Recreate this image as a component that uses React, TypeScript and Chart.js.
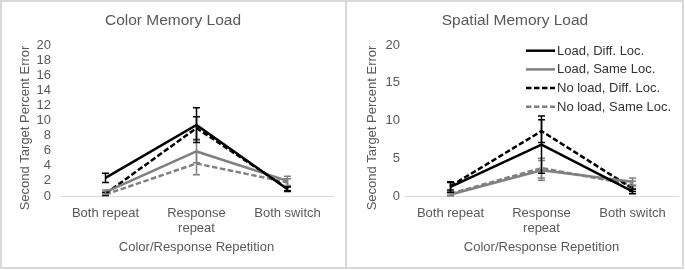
import React, { useEffect, useRef } from 'react';
import { Chart, registerables } from 'chart.js';
Chart.register(...registerables);

const FONT = '"Liberation Sans", Arial, sans-serif';
Chart.defaults.font.family = FONT;

const categories: string[][] = [['Both repeat'], ['Response', 'repeat'], ['Both switch']];
const seriesNames = ['Load, Diff. Loc.', 'Load, Same Loc.', 'No load, Diff. Loc.', 'No load, Same Loc.'];
const seriesColors = ['#000000', '#808080', '#000000', '#808080'];
const seriesDashed = [false, false, true, true];

// Color Memory Load
const colorLoadDiff = [2.4, 9.4, 0.9];
const colorLoadDiffErr = [0.6, 2.3, 0.3];
const colorLoadSame = [0.5, 5.9, 2.0];
const colorLoadSameErr = [0.3, 1.5, 0.6];
const colorNoLoadDiff = [0.3, 9.0, 1.0];
const colorNoLoadDiffErr = [0.2, 1.5, 0.3];
const colorNoLoadSame = [0.2, 4.3, 1.8];
const colorNoLoadSameErr = [0.2, 1.5, 0.5];

// Spatial Memory Load
const spatialLoadDiff = [1.2, 6.8, 0.6];
const spatialLoadDiffErr = [0.7, 3.8, 0.3];
const spatialLoadSame = [0.2, 3.4, 1.9];
const spatialLoadSameErr = [0.2, 1.3, 0.5];
const spatialNoLoadDiff = [1.3, 8.6, 1.0];
const spatialNoLoadDiffErr = [0.5, 1.5, 0.4];
const spatialNoLoadSame = [0.3, 3.7, 1.5];
const spatialNoLoadSameErr = [0.2, 1.3, 0.5];

const colorTicks = [0, 2, 4, 6, 8, 10, 12, 14, 16, 18, 20];
const spatialTicks = [0, 5, 10, 15, 20];

const yTitle = 'Second Target Percent Error';
const xTitle = 'Color/Response Repetition';

type PanelProps = {
  title: string;
  values: number[][];
  errors: number[][];
  ticks: number[];
  width: number;
  height: number;
  padRight: number;
  yTickPad: number;
  titleX: number;
  yTitleX: number;
  showLegend: boolean;
};

function Panel(p: PanelProps) {
  const ref = useRef<HTMLCanvasElement>(null);
  useEffect(() => {
    if (!ref.current) return;
    const decor = {
      id: 'decor',
      afterDatasetsDraw(chart: any) {
        const ctx = chart.ctx;
        const ys = chart.scales.y;
        ctx.save();
        for (let i = p.values.length - 1; i >= 0; i--) {
          const meta = chart.getDatasetMeta(i);
          ctx.strokeStyle = seriesColors[i];
          ctx.lineWidth = 1.5;
          ctx.setLineDash([]);
          meta.data.forEach((pt: any, j: number) => {
            const v = p.values[i][j];
            const e = p.errors[i][j];
            const yt = ys.getPixelForValue(v + e);
            const yb = ys.getPixelForValue(v - e);
            const x = pt.x;
            ctx.beginPath();
            ctx.moveTo(x, yt);
            ctx.lineTo(x, yb);
            ctx.moveTo(x - 3.5, yt);
            ctx.lineTo(x + 3.5, yt);
            ctx.moveTo(x - 3.5, yb);
            ctx.lineTo(x + 3.5, yb);
            ctx.stroke();
          });
        }
        ctx.restore();
      },
      afterDraw(chart: any) {
        const ctx = chart.ctx;
        const ca = chart.chartArea;
        ctx.save();
        ctx.fillStyle = '#595959';
        ctx.textAlign = 'center';
        ctx.textBaseline = 'middle';
        ctx.font = `15.5px ${FONT}`;
        ctx.fillText(p.title, p.titleX, 18.5);
        ctx.font = `13px ${FONT}`;
        ctx.fillText(xTitle, (ca.left + ca.right) / 2, 245);
        ctx.save();
        ctx.translate(p.yTitleX, 126);
        ctx.rotate(-Math.PI / 2);
        ctx.fillText(yTitle, 0, 0);
        ctx.restore();
        if (p.showLegend) {
          const y0 = 48.7;
          const dy = 18.7;
          seriesNames.forEach((name, i) => {
            const y = y0 + dy * i;
            ctx.beginPath();
            ctx.strokeStyle = seriesColors[i];
            ctx.lineWidth = 2.5;
            ctx.setLineDash(seriesDashed[i] ? [5.5, 2.5] : []);
            ctx.moveTo(179, y);
            ctx.lineTo(208, y);
            ctx.stroke();
            ctx.setLineDash([]);
            ctx.fillStyle = '#333333';
            ctx.textAlign = 'left';
            ctx.font = `13px ${FONT}`;
            ctx.fillText(name, 210, y + 0.5);
          });
        }
        ctx.restore();
      },
    };
    const chart = new Chart(ref.current, {
      type: 'line',
      data: {
        labels: categories,
        datasets: p.values.map((vals, i) => ({
          label: seriesNames[i],
          data: vals,
          borderColor: seriesColors[i],
          backgroundColor: seriesColors[i],
          borderWidth: 2.5,
          borderDash: seriesDashed[i] ? [5.5, 2.5] : [],
          pointRadius: 0,
          tension: 0,
          fill: false,
        })),
      },
      options: {
        animation: false,
        responsive: false,
        maintainAspectRatio: false,
        layout: { padding: { left: 0, right: p.padRight, top: 43, bottom: 0 } },
        plugins: {
          legend: { display: false },
          title: { display: false },
          tooltip: { enabled: false },
        },
        scales: {
          x: {
            type: 'category',
            offset: true,
            grid: { display: false, drawTicks: false },
            border: { display: true, color: '#d9d9d9', width: 1 },
            ticks: {
              padding: 9.5,
              color: '#595959',
              font: { size: 13, lineHeight: 1.15 },
              maxRotation: 0,
              autoSkip: false,
            },
            afterFit: (s: any) => {
              s.height = 71;
            },
          },
          y: {
            min: 0,
            max: 20,
            grid: { display: false, drawTicks: false },
            border: { display: false },
            ticks: { padding: p.yTickPad, color: '#595959', font: { size: 13 }, autoSkip: false },
            afterBuildTicks: (s: any) => {
              s.ticks = p.ticks.map((v) => ({ value: v }));
            },
            afterFit: (s: any) => {
              s.width = 58;
            },
          },
        },
      },
      plugins: [decor],
    } as any);
    return () => chart.destroy();
  }, []);
  return <canvas ref={ref} width={p.width} height={p.height} style={{ width: p.width, height: p.height, display: 'block' }} />;
}

export default function App() {
  const border = '2px solid #d9d9d9';
  return (
    <div style={{ position: 'absolute', left: 0, top: 0, width: 685, height: 270, background: '#fff' }}>
      <div style={{ position: 'absolute', left: 0, top: 0, width: 347, height: 269, border, boxSizing: 'border-box' }} />
      <div style={{ position: 'absolute', left: 345, top: 0, width: 339, height: 269, border, boxSizing: 'border-box' }} />
      <div style={{ position: 'absolute', left: 2, top: 2 }}>
        <Panel
          title="Color Memory Load"
          values={[colorLoadDiff, colorLoadSame, colorNoLoadDiff, colorNoLoadSame]}
          errors={[colorLoadDiffErr, colorLoadSameErr, colorNoLoadDiffErr, colorNoLoadSameErr]}
          ticks={colorTicks}
          width={343}
          height={265}
          padRight={12}
          yTickPad={9}
          titleX={171}
          yTitleX={23}
          showLegend={false}
        />
      </div>
      <div style={{ position: 'absolute', left: 347, top: 2 }}>
        <Panel
          title="Spatial Memory Load"
          values={[spatialLoadDiff, spatialLoadSame, spatialNoLoadDiff, spatialNoLoadSame]}
          errors={[spatialLoadDiffErr, spatialLoadSameErr, spatialNoLoadDiffErr, spatialNoLoadSameErr]}
          ticks={spatialTicks}
          width={335}
          height={265}
          padRight={4}
          yTickPad={5}
          titleX={168}
          yTitleX={25}
          showLegend={true}
        />
      </div>
    </div>
  );
}
